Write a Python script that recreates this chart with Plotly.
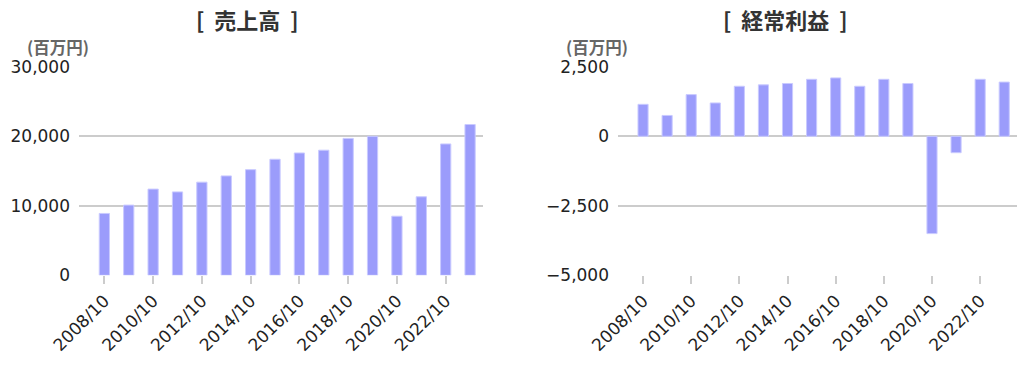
import plotly.graph_objects as go

periods = ["2008/10", "2009/10", "2010/10", "2011/10", "2012/10", "2013/10", "2014/10", "2015/10",
           "2016/10", "2017/10", "2018/10", "2019/10", "2020/10", "2021/10", "2022/10", "2023/10"]
sales = [8900, 10100, 12400, 12000, 13400, 14300, 15200, 16700,
         17600, 18000, 19700, 20000, 8500, 11300, 18900, 21700]
ordinary_profit = [1150, 750, 1500, 1200, 1800, 1850, 1900, 2050,
                   2100, 1800, 2050, 1900, -3500, -590, 2050, 1950]
tick_labels = ["2008/10", "2010/10", "2012/10", "2014/10", "2016/10", "2018/10", "2020/10", "2022/10"]

titles = ["[\u00a0\u00a0売上高\u00a0\u00a0]", "[\u00a0\u00a0経常利益\u00a0\u00a0]"]
unit = "(百万円)"

W, H = 1030, 370
FONT = "DejaVu Sans, Verdana, sans-serif"
JP = "Noto Sans CJK JP"

def px(x):
    return x / W

def py(y):
    return 1 - y / H

fig = go.Figure()

bar_style = dict(marker=dict(color="#9b9cfb", line=dict(color="#c9caff", width=1)), width=0.42,
                 showlegend=False, hoverinfo="x+y")

fig.add_trace(go.Bar(x=periods, y=sales, xaxis="x", yaxis="y", **bar_style))
fig.add_trace(go.Bar(x=periods, y=ordinary_profit, xaxis="x2", yaxis="y2", **bar_style))

xcommon = dict(type="category", tickmode="array", tickvals=tick_labels, ticktext=tick_labels,
               tickangle=-45, ticks="outside", ticklen=8, tickcolor="#cccccc", tickwidth=1.5,
               showgrid=False, showline=False, zeroline=False, automargin=False,
               tickfont=dict(family=FONT, size=17, color="#222222"), range=[-1.04, 15.53])
ycommon = dict(showgrid=True, gridcolor="#cccccc", gridwidth=1.5, zeroline=False, showline=False,
               automargin=False, ticklabelstandoff=8,
               tickformat=",d", ticks="", tickfont=dict(family=FONT, size=17, color="#222222"))

ydom = [py(275.3), py(66.8)]

fig.update_layout(
    width=W, height=H,
    margin=dict(l=0, r=0, t=0, b=0, autoexpand=False),
    paper_bgcolor="white", plot_bgcolor="white",
    bargap=0.58,
    xaxis=dict(domain=[px(79), px(483)], anchor="y", **xcommon),
    yaxis=dict(domain=ydom, anchor="x", range=[0, 30000], tickvals=[0, 10000, 20000, 30000], **ycommon),
    xaxis2=dict(domain=[px(618), px(1017)], anchor="y2", **xcommon),
    yaxis2=dict(domain=ydom, anchor="x2", range=[-5000, 2500], tickvals=[-5000, -2500, 0, 2500], **ycommon),
)

annotations = [
    dict(text="<b>" + titles[0] + "</b>", x=px(247), y=py(19)),
    dict(text="<b>" + titles[1] + "</b>", x=px(785), y=py(19)),
]
for a in annotations:
    a.update(xref="paper", yref="paper", showarrow=False, xanchor="center", yanchor="middle",
             font=dict(family=JP, size=22, color="#333333"))
units = [
    dict(text="<b>" + unit + "</b>", x=px(58), y=py(47)),
    dict(text="<b>" + unit + "</b>", x=px(597), y=py(47)),
]
for a in units:
    a.update(xref="paper", yref="paper", showarrow=False, xanchor="center", yanchor="middle",
             font=dict(family=JP, size=16.5, color="#666666"))
fig.update_layout(annotations=annotations + units)

# remove the browser's default 8px body margin so the figure fills the window exactly
fig.write_html("out.html", config={"displayModeBar": False},
               post_script="document.body.style.margin='0';")
